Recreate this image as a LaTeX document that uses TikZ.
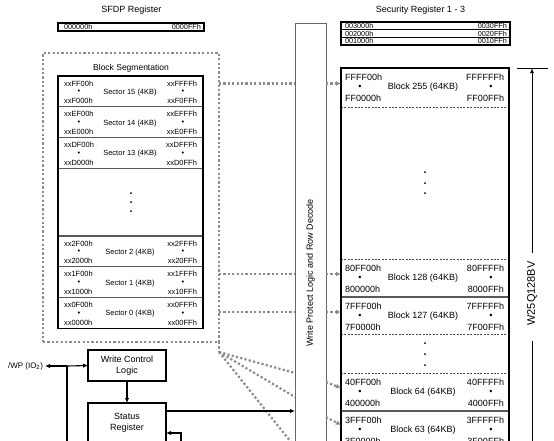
\documentclass[tikz,border=0pt]{standalone}
\usepackage{fontspec}
\setmainfont{Liberation Sans}
\usetikzlibrary{arrows.meta,calc}
\begin{document}
\begin{tikzpicture}[x=1pt,y=-1pt,
  every node/.style={inner sep=0pt, outer sep=0pt, font=\fontsize{9}{11}\selectfont},
  sm/.style={font=\fontsize{7.5}{8}\selectfont},
  tiny/.style={font=\fontsize{7.3}{8}\selectfont},
  bg/.style={font=\fontsize{9}{10}\selectfont},
  boxln/.style={draw=black, line width=1.2pt},
  sepln/.style={draw=black!65, line width=1.1pt},
  dashln/.style={draw=black!70, line width=0.9pt, dash pattern=on 2pt off 1.4pt},
  dotln/.style={draw=black!45, line width=2.2pt, dash pattern=on 2.2pt off 2.2pt},
  dotarr/.style={dotln, -{Latex[length=5pt,width=5pt]}},
  blk/.style={draw=black, line width=1.1pt, -{Latex[length=5pt,width=4.5pt]}},
  plain/.style={draw=black, line width=1.1pt},
]
\path[use as bounding box, clip] (0,0) rectangle (554,440);

% ---------- titles ----------
\node (sfdpt) at (131.5,10) {SFDP Register};
\node (sect) at (420.5,10) {Security Register 1 - 3};

% ---------- SFDP register ----------
\node[boxln, minimum width=146pt, minimum height=8pt] (sfdp) at (131,27) {};
\node[tiny, anchor=west] (sfdpl) at ([xshift=6pt]sfdp.west) {000000h};
\node[tiny, anchor=east] (sfdpr) at ([xshift=-3pt]sfdp.east) {0000FFh};

% ---------- Security registers ----------
\foreach \nm/\yc/\lt/\rt in {sr3/25.8/003000h/0030FFh, sr2/33.5/002000h/0020FFh, sr1/41.2/001000h/0010FFh}{
  \node[boxln, minimum width=169pt, minimum height=7.7pt] (\nm) at (425.5,\yc) {};
  \node[tiny, anchor=west] (\nm l) at ([xshift=4pt]\nm.west) {\lt};
  \node[tiny, anchor=east] (\nm r) at ([xshift=-3pt]\nm.east) {\rt};
}

% ---------- Write protect column ----------
\node[draw=black!60, line width=1pt, minimum width=31pt, minimum height=440pt, anchor=north] (wp) at (310.5,23) {};
\node[rotate=90] (wpt) at (310.5,273) {Write Protect Logic and Row Decode};

% ---------- Block segmentation ----------
\node[dotln, minimum width=176pt, minimum height=289pt, anchor=north west] (seg) at (43,53) {};
\node[font=\fontsize{8.5}{10}\selectfont] (segt) at (131,68) {Block Segmentation};

\foreach \nm/\yt/\tl/\bl/\ct/\tr/\br in {
  s15/76/xxFF00h/xxF000h/Sector 15 (4KB)/xxFFFFh/xxF0FFh,
  s14/106.7/xxEF00h/xxE000h/Sector 14 (4KB)/xxEFFFh/xxE0FFh,
  s13/137.4/xxDF00h/xxD000h/Sector 13 (4KB)/xxDFFFh/xxD0FFh,
  s2/236/xx2F00h/xx2000h/Sector 2 (4KB)/xx2FFFh/xx20FFh,
  s1/266.7/xx1F00h/xx1000h/Sector 1 (4KB)/xx1FFFh/xx10FFh,
  s0/297.4/xx0F00h/xx0000h/Sector 0 (4KB)/xx0FFFh/xx00FFh}{
  \node[minimum width=145pt, minimum height=30.7pt, anchor=north west] (\nm) at (58,\yt) {};
  \node[sm, anchor=west] (\nm a) at (64,{\yt+7.5}) {\tl};
  \node[sm] (\nm b) at (79,{\yt+16}) {•};
  \node[sm, anchor=west] (\nm c) at (64,{\yt+25}) {\bl};
  \node[sm] (\nm d) at (130,{\yt+16.5}) {\ct};
  \node[sm, anchor=east] (\nm e) at (197,{\yt+7.5}) {\tr};
  \node[sm] (\nm f) at (183,{\yt+16}) {•};
  \node[sm, anchor=east] (\nm g) at (197,{\yt+25}) {\br};
}
\draw[sepln] (s15.south west) -- (s15.south east);
\draw[sepln] (s14.south west) -- (s14.south east);
\draw[sepln] (s13.south west) -- (s13.south east);
\draw[sepln] (s2.north west) -- (s2.north east);
\draw[sepln] (s2.south west) -- (s2.south east);
\draw[sepln] (s1.south west) -- (s1.south east);
\draw[boxln] (s15.north west) rectangle (s0.south east);
\foreach \yy in {193,202,211}{\fill (131,\yy) circle (1pt);}

% ---------- Block table ----------
\foreach \nm/\yt/\hh/\tl/\bl/\ct/\tr/\br in {
  b255/68/39/FFFF00h/FF0000h/Block 255 (64KB)/FFFFFFh/FF00FFh,
  b128/259/38/80FF00h/800000h/Block 128 (64KB)/80FFFFh/8000FFh,
  b127/297/37/7FFF00h/7F0000h/Block 127 (64KB)/7FFFFFh/7F00FFh,
  b64/373/38/40FF00h/400000h/Block 64 (64KB)/40FFFFh/4000FFh,
  b63/411/38/3FFF00h/3F0000h/Block 63 (64KB)/3FFFFFh/3F00FFh}{
  \node[minimum width=168pt, minimum height=\hh pt, anchor=north west] (\nm) at (341,\yt) {};
  \node[bg, anchor=west] (\nm a) at (345,{\yt+9}) {\tl};
  \node[bg] (\nm b) at (360,{\yt+19.5}) {•};
  \node[bg, anchor=west] (\nm c) at (345,{\yt+30}) {\bl};
  \node[bg] (\nm d) at (423,{\yt+19.5}) {\ct};
  \node[bg, anchor=east] (\nm e) at (504,{\yt+9}) {\tr};
  \node[bg] (\nm f) at (491,{\yt+19.5}) {•};
  \node[bg, anchor=east] (\nm g) at (504,{\yt+30}) {\br};
}
\draw[dashln] (b255.south west) -- (b255.south east);
\draw[dashln] (b128.north west) -- (b128.north east);
\draw[sepln] (b128.south west) -- (b128.south east);
\draw[dashln] (b127.south west) -- (b127.south east);
\draw[dashln] (b64.north west) -- (b64.north east);
\draw[sepln] (b64.south west) -- (b64.south east);
\draw[boxln] (b255.north west) rectangle (509,470);
\foreach \yy in {172,183,193,343,354,365}{\fill (425,\yy) circle (1pt);}

% ---------- dotted connectors ----------
\coordinate (a255) at ([yshift=4pt]b255.west);
\coordinate (a128) at ([yshift=4pt]b128.west);
\coordinate (a127) at ([yshift=3.5pt]b127.west);
\draw[dotln] (seg.east |- a255) -- (wp.west |- a255);
\draw[dotln] (seg.east |- a128) -- (wp.west |- a128);
\draw[dotln] (seg.east |- a127) -- (wp.west |- a127);
\draw[dotarr] (wp.east |- a255) -- (a255);
\draw[dotarr] (wp.east |- a128) -- (a128);
\draw[dotarr] (wp.east |- a127) -- (a127);

\coordinate (fan) at ($(seg.south east)+(0,10)$);
\draw[dotln] (seg.south east) -- (fan);
\draw[dotln] (fan) -- (wp.west |- 0,373);
\draw[dotln] (fan) -- (wp.west |- 0,397);
\draw[dotln] (fan) -- (wp.west |- 0,447);
\draw[dotarr] (wp.east |- 0,382) -- ([yshift=4pt]b64.west);
\draw[dotarr] (wp.east |- 0,417) -- ([yshift=5pt]b63.west);

% ---------- dimension ----------
\coordinate (dtop) at (532,68);
\draw[line width=0.9pt] (517,68) -- (548,68);
\node[rotate=90, font=\fontsize{11}{12}\selectfont] (dimlbl) at (532,293.5) {W25Q128BV};
\draw[draw=black, line width=0.9pt, -{Latex[length=5pt,width=4pt]}] (dimlbl.east) ++(0,-8) -- (dtop);
\coordinate (dbot) at (532,460);
\draw[line width=0.9pt] (dimlbl.west) ++(0,15) -- (dbot);

% ---------- control logic ----------
\node[boxln, minimum width=78pt, minimum height=31pt, align=center] (wcl) at (127,365.5) {Write Control\\Logic};
\node[boxln, minimum width=78pt, minimum height=40pt, anchor=north, align=center, font=\fontsize{9}{10.5}\selectfont] (sreg) at (127,403) {Status\\Register};
\node[anchor=east, outer sep=2pt, font=\fontsize{8}{10}\selectfont] (wplbl) at (45,366) {/WP (IO\textsubscript{2})};
\coordinate (j) at (67,366);
\coordinate (jb) at (67,450);
\draw[blk] (j) -- (wplbl.east);
\draw[blk] (j) -- (wcl.west);
\draw[plain] (j) -- (jb);
\draw[blk] (wcl) -- (sreg);
\draw[blk] (sreg.east |- 0,411) -- (wp.west |- 0,411);
\coordinate (fb) at (181,450);
\draw[blk] (fb) |- (sreg.east |- 0,433);
\end{tikzpicture}
\end{document}
